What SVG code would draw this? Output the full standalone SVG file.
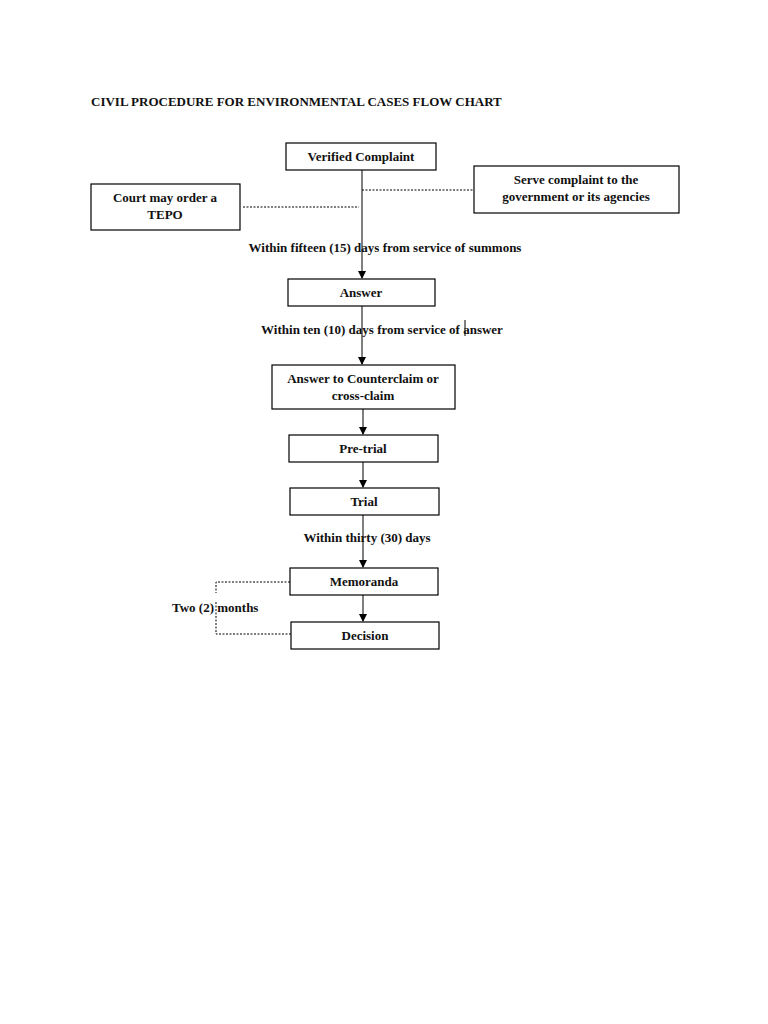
<svg xmlns="http://www.w3.org/2000/svg" width="768" height="1024" viewBox="0 0 768 1024">
<defs>
<marker id="ah" markerWidth="8" markerHeight="8" refX="7" refY="4" orient="auto" markerUnits="userSpaceOnUse"><path d="M0,0 L8,4 L0,8 z" fill="#000"/></marker>
<style>
text{font-family:"Liberation Serif","DejaVu Serif",serif;font-weight:bold;font-size:13px;fill:#111;}
.c{text-anchor:middle}
.box{fill:#fff;stroke:#000;stroke-width:1.2}
.ln{stroke:#000;stroke-width:1;fill:none}
.d{stroke:#000;stroke-width:1;fill:none;stroke-dasharray:2,1.5}
</style>
</defs>
<rect width="768" height="1024" fill="#fff"/>
<text x="91" y="106">CIVIL PROCEDURE FOR ENVIRONMENTAL CASES FLOW CHART</text>
<g id="connectors">
<line class="ln" x1="362" y1="170" x2="362" y2="278" marker-end="url(#ah)"/>
<line class="d" x1="243" y1="207" x2="359" y2="207"/>
<line class="d" x1="362" y1="190" x2="474" y2="190"/>
<line class="ln" x1="362" y1="306" x2="362" y2="364" marker-end="url(#ah)"/>
<line class="ln" x1="465" y1="320" x2="465" y2="336"/>
<line class="ln" x1="363" y1="409" x2="363" y2="434" marker-end="url(#ah)"/>
<line class="ln" x1="363" y1="462" x2="363" y2="487" marker-end="url(#ah)"/>
<line class="ln" x1="363" y1="515" x2="363" y2="567" marker-end="url(#ah)"/>
<line class="ln" x1="363" y1="595" x2="363" y2="621" marker-end="url(#ah)"/>
<polyline class="d" points="290,582 216,582 216,593"/>
<polyline class="d" points="216,602 216,634 291,634"/>
</g>
<text class="c" x="385" y="252">Within fifteen (15) days from service of summons</text>
<text class="c" x="382" y="334">Within ten (10) days from service of answer</text>
<text class="c" x="367" y="542">Within thirty (30) days</text>
<text x="172" y="612">Two (2) months</text>
<g id="verified"><rect class="box" x="286" y="143" width="150" height="27"/><text class="c" x="361" y="161">Verified Complaint</text></g>
<g id="tepo"><rect class="box" x="91" y="184" width="149" height="46"/><text class="c" x="165" y="202">Court may order a</text><text class="c" x="165" y="219">TEPO</text></g>
<g id="serve"><rect class="box" x="474" y="166" width="205" height="47"/><text class="c" x="576" y="184">Serve complaint to the</text><text class="c" x="576" y="201">government or its agencies</text></g>
<g id="answer"><rect class="box" x="288" y="279" width="147" height="27"/><text class="c" x="361" y="297">Answer</text></g>
<g id="counter"><rect class="box" x="272" y="365" width="183" height="44"/><text class="c" x="363" y="383">Answer to Counterclaim or</text><text class="c" x="363" y="400">cross-claim</text></g>
<g id="pretrial"><rect class="box" x="289" y="435" width="149" height="27"/><text class="c" x="363" y="453">Pre-trial</text></g>
<g id="trial"><rect class="box" x="290" y="488" width="149" height="27"/><text class="c" x="364" y="506">Trial</text></g>
<g id="memoranda"><rect class="box" x="290" y="568" width="148" height="27"/><text class="c" x="364" y="586">Memoranda</text></g>
<g id="decision"><rect class="box" x="291" y="622" width="148" height="27"/><text class="c" x="365" y="640">Decision</text></g>
</svg>
